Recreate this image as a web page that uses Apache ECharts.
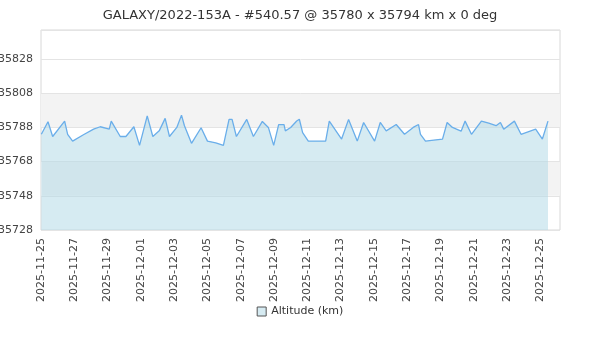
<!DOCTYPE html>
<html><head><meta charset="utf-8">
<script src="https://cdn.jsdelivr.net/npm/echarts@6/dist/echarts.min.js"></script>
<style>html,body{margin:0;padding:0;background:#fff}#c{width:600px;height:360px}</style>
</head><body><div id="c"></div>
<script>
const titleText = 'GALAXY/2022-153A - #540.57 @ 35780 x 35794 km x 0 deg';
const seriesName = 'Altitude (km)';
const startDate = '2025-11-25T00:00Z';
const endDate = '2025-12-26T04:20Z';
const times = [
 '2025-11-25T00:30Z','2025-11-25T10:05Z','2025-11-25T16:50Z','2025-11-26T10:05Z','2025-11-26T14:25Z',
 '2025-11-26T21:35Z','2025-11-27T13:10Z','2025-11-28T03:50Z','2025-11-28T13:25Z','2025-11-29T02:25Z',
 '2025-11-29T05:15Z','2025-11-29T18:15Z','2025-11-30T02:25Z','2025-11-30T13:55Z','2025-11-30T22:05Z',
 '2025-12-01T09:10Z','2025-12-01T17:15Z','2025-12-02T02:25Z','2025-12-02T11:00Z','2025-12-02T17:15Z',
 '2025-12-03T03:50Z','2025-12-03T10:35Z','2025-12-03T14:50Z','2025-12-04T01:00Z','2025-12-04T14:50Z',
 '2025-12-05T00:00Z','2025-12-05T12:00Z','2025-12-05T23:00Z','2025-12-06T07:10Z','2025-12-06T11:30Z',
 '2025-12-06T17:45Z','2025-12-07T08:40Z','2025-12-07T18:15Z','2025-12-08T07:10Z','2025-12-08T15:50Z',
 '2025-12-08T23:30Z','2025-12-09T06:40Z','2025-12-09T14:25Z','2025-12-09T16:20Z','2025-12-10T00:00Z',
 '2025-12-10T08:40Z','2025-12-10T12:30Z','2025-12-10T17:15Z','2025-12-11T01:25Z','2025-12-11T14:25Z',
 '2025-12-12T02:25Z','2025-12-12T07:40Z','2025-12-13T01:25Z','2025-12-13T11:30Z','2025-12-14T00:00Z',
 '2025-12-14T09:10Z','2025-12-15T01:00Z','2025-12-15T09:10Z','2025-12-15T17:45Z','2025-12-16T08:10Z',
 '2025-12-16T20:10Z','2025-12-17T08:40Z','2025-12-17T16:20Z','2025-12-17T19:10Z','2025-12-18T02:25Z',
 '2025-12-18T14:25Z','2025-12-19T02:55Z','2025-12-19T09:35Z','2025-12-19T17:15Z','2025-12-20T05:45Z',
 '2025-12-20T11:30Z','2025-12-20T20:40Z','2025-12-21T11:00Z','2025-12-21T21:35Z','2025-12-22T08:10Z',
 '2025-12-22T14:25Z','2025-12-22T19:10Z','2025-12-23T10:35Z','2025-12-23T20:10Z','2025-12-24T17:15Z',
 '2025-12-25T02:55Z','2025-12-25T11:00Z'
];
const altitudes = [
 35784,35791.3,35782.7,35791.7,35784,
 35780,35783.7,35787,35788.4,35787,
 35791.7,35782.7,35782.7,35788.4,35777.5,
 35794.8,35782.7,35786,35793.3,35782.7,
 35788,35795.2,35789,35778.7,35787.8,
 35780,35779,35777.5,35792.7,35792.7,
 35782.7,35792.7,35782.7,35791.5,35788,
 35777.5,35789.7,35789.7,35786,35788,
 35791.8,35792.8,35785,35780,35780,
 35780,35791.7,35781.2,35792.7,35780,
 35790.9,35780,35790.9,35786,35789.7,
 35784,35788,35789.7,35784,35780,
 35780.6,35781.2,35790.9,35788,35785.8,
 35791.7,35784,35791.7,35790.5,35789,
 35790.9,35787,35791.7,35784,35787,
 35781.2,35791.7
];
const yMin = 35728, yMax = 35845, yStep = 20;
const xStepDays = 2;

const DAY = 86400000;
const t0 = Date.parse(startDate);
const toDays = s => (Date.parse(s) - t0) / DAY;
const data = times.map((t, i) => [toDays(t), altitudes[i]]);

const chart = echarts.init(document.getElementById('c'));
chart.setOption({
  animation: false,
  title: { text: titleText, left: 'center', top: 4,
    textStyle: { fontFamily: 'DejaVu Sans', fontSize: 13, fontWeight: 'normal', color: '#333' } },
  legend: { bottom: 38, left: 'center', icon: 'rect', itemWidth: 9, itemHeight: 9, itemGap: 6,
    data: [{ name: seriesName, itemStyle: { color: '#d6ebf2', borderColor: '#555', borderWidth: 1 } }],
    textStyle: { fontFamily: 'DejaVu Sans', fontSize: 11, color: '#333' } },
  grid: { left: 41, right: 40, top: 30, bottom: 130, show: true, borderColor: '#d8d8d8', borderWidth: 1,
    containLabel: false, outerBoundsMode: 'none' },
  xAxis: {
    type: 'value', min: 0, max: toDays(endDate), interval: xStepDays,
    axisLine: { show: false }, axisTick: { show: false }, splitLine: { show: false },
    axisLabel: { rotate: 90, margin: 8, showMaxLabel: false, fontFamily: 'DejaVu Sans', fontSize: 11, color: '#444',
      formatter: v => new Date(t0 + v * DAY).toISOString().slice(0, 10) }
  },
  yAxis: {
    type: 'value', min: yMin, max: yMax, interval: yStep,
    axisLine: { show: false }, axisTick: { show: false },
    splitLine: { show: true, lineStyle: { color: '#e4e4e4', width: 1 } },
    splitArea: { show: true, areaStyle: { color: ['rgba(0,0,0,0)', '#f3f3f3', 'rgba(0,0,0,0)', '#f3f3f3', 'rgba(0,0,0,0)', 'rgba(0,0,0,0)'] } },
    axisLabel: { margin: 8, showMaxLabel: false, fontFamily: 'DejaVu Sans', fontSize: 11, color: '#444',
      formatter: v => String(v) }
  },
  series: [{
    name: seriesName, type: 'line', data: data, symbol: 'none',
    lineStyle: { color: '#6aaeea', width: 1.3 },
    itemStyle: { color: '#d6ebf2' },
    areaStyle: { color: 'lightblue', opacity: 0.5 }
  }]
});
</script></body></html>
